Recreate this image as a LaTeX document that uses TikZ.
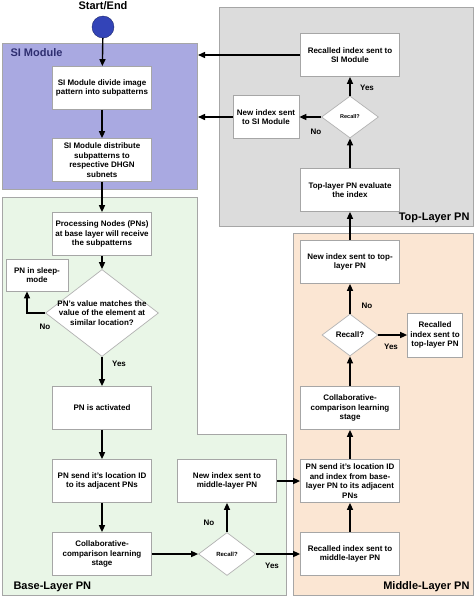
\documentclass[tikz,border=0pt]{standalone}
\usepackage{fontspec}
\setmainfont{Liberation Sans}
\usepackage{xcolor}
\usepackage{tikz}
\usetikzlibrary{arrows.meta}
\usetikzlibrary{shapes.geometric}

\definecolor{simodule}{HTML}{A9A9E1}
\definecolor{baselayer}{HTML}{E9F6E7}
\definecolor{midlayer}{HTML}{FBE6D3}
\definecolor{toplayer}{HTML}{DCDCDC}
\definecolor{startblue}{HTML}{3344B8}
\definecolor{silabel}{HTML}{2E2E70}

\begin{document}
\begin{tikzpicture}[
    x=1pt, y=-1pt,
    % styles
    region/.style={draw=gray!70, line width=0.8pt},
    stepbox/.style={draw=gray!70, fill=white, line width=0.7pt,
      minimum width=99pt, minimum height=43pt, inner sep=1pt,
      align=center, font=\bfseries\fontsize{8}{9.7}\selectfont},
    decision/.style={diamond, draw=gray!60, fill=white, line width=0.7pt,
      inner sep=0pt, align=center, font=\bfseries\fontsize{6}{7}\selectfont},
    answer/.style={font=\bfseries\fontsize{8}{9}\selectfont},
    area/.style={font=\bfseries\fontsize{11}{13}\selectfont},
    flow/.style={line width=1.4pt, -{Triangle[length=7pt, width=6pt]}}]

    \useasboundingbox (0, 0) rectangle (474, 598);

    % layer regions
    \filldraw [region, fill=simodule] (2, 43) rectangle (197, 189);
    \filldraw [region, fill=toplayer] (219, 7) rectangle (473, 226);
    \filldraw [region, fill=midlayer] (293, 233) rectangle (473, 595);
    \filldraw [region, fill=baselayer] (2, 197) -- (197, 197) -- (197, 434)
    -- (286, 434) -- (286, 595) -- (2, 595) -- cycle;

    \node [area, text=silabel, anchor=west] (silbl) at (7, 53) {SI Module};
    \node [area, anchor=east] (toplbl) at (473, 218) {Top-Layer PN};
    \node [area, anchor=west] (baselbl) at (10, 587) {Base-Layer PN};
    \node [area, anchor=east] (midlbl) at (473, 587) {Middle-Layer PN};

    % start
    \node [area] (startlbl) at (103, 6) {Start/End};
    \node [circle, draw=startblue!60!black, fill=startblue, minimum size=22pt,
      inner sep=0pt] (start) at (103, 27) {};

    % si module
    \node [stepbox] (divide) at (102, 88)
    {SI Module divide image\\pattern into subpatterns};
    \node [stepbox] (distribute) at (102, 160)
    {SI Module distribute\\subpatterns to\\respective DHGN\\subnets};

    % base layer
    \node [stepbox] (receive) at (102, 234)
    {Processing Nodes (PNs)\\at base layer will receive\\the subpatterns};
    \node [stepbox, minimum width=62pt, minimum height=32pt] (sleep)
    at (37, 275) {PN in sleep-\\mode};
    \node [decision, minimum width=113pt, minimum height=87pt] (match)
    at (102, 313) {};
    \node [align=center, font=\bfseries\fontsize{8}{9.7}\selectfont]
    (matchtext) at (match) {PN's value matches the\\value of the element at\\similar location?};
    \node [stepbox] (activated) at (102, 408) {PN is activated};
    \node [stepbox] (sendid) at (102, 481)
    {PN send it's location ID\\to its adjacent PNs};
    \node [stepbox] (learnbase) at (102, 554)
    {Collaborative-\\comparison learning\\stage};
    \node [decision, minimum width=57pt, minimum height=43pt] (recallbase)
    at (227, 554) {Recall?};
    \node [stepbox] (newmid) at (227, 481)
    {New index sent to\\middle-layer PN};

    % middle layer
    \node [stepbox] (recmid) at (350, 554)
    {Recalled index sent to\\middle-layer PN};
    \node [stepbox] (sendmid) at (350, 481)
    {PN send it's location ID\\and index from base-\\layer PN to its adjacent\\PNs};
    \node [stepbox] (learnmid) at (350, 408)
    {Collaborative-\\comparison learning\\stage};
    \node [decision, minimum width=56pt, minimum height=42pt,
      font=\bfseries\fontsize{8}{9}\selectfont] (recallmid) at (350, 335) {Recall?};
    \node [stepbox, minimum width=55pt, minimum height=44pt] (rectop)
    at (435, 335) {Recalled\\index sent to\\top-layer PN};
    \node [stepbox] (newtop) at (350, 262)
    {New index sent to top-\\layer PN};

    % top layer
    \node [stepbox] (evaltop) at (350, 190)
    {Top-layer PN evaluate\\the index};
    \node [decision, minimum width=57pt, minimum height=42pt,
      font=\bfseries\fontsize{5.5}{6}\selectfont] (recalltop) at (350, 117) {Recall?};
    \node [stepbox] (recsi) at (350, 55)
    {Recalled index sent to\\SI Module};
    \node [stepbox, minimum width=66pt] (newsi) at (266, 117)
    {New index sent\\to SI Module};
    \coordinate (siin1) at (198, 55);
    \coordinate (siin2) at (198, 117);

    % yes / no labels
    \node [answer] (matchyes) at (119, 364) {Yes};
    \node [answer] (matchno) at (45, 327) {No};
    \node [answer] (baseno) at (209, 523) {No};
    \node [answer] (baseyes) at (272, 566) {Yes};
    \node [answer] (midno) at (367, 306) {No};
    \node [answer] (midyes) at (391, 347) {Yes};
    \node [answer] (topyes) at (367, 88) {Yes};
    \node [answer] (topno) at (316, 132) {No};

    % connectors
    \foreach \a/\b in {start/divide, divide/distribute, distribute/receive,
      receive/match, match/activated, activated/sendid, sendid/learnbase,
      learnbase/recallbase, recallbase/newmid, recallbase/recmid,
      newmid/sendmid, recmid/sendmid, sendmid/learnmid, learnmid/recallmid,
      recallmid/newtop, recallmid/rectop, newtop/evaltop, evaltop/recalltop,
      recalltop/recsi, recalltop/newsi, recsi/siin1, newsi/siin2} {
      \draw [flow] (\a) -- (\b);
    }
    \draw [flow] (match.west) -| ([xshift=-10pt]sleep.south);

  \end{tikzpicture}
\end{document}
